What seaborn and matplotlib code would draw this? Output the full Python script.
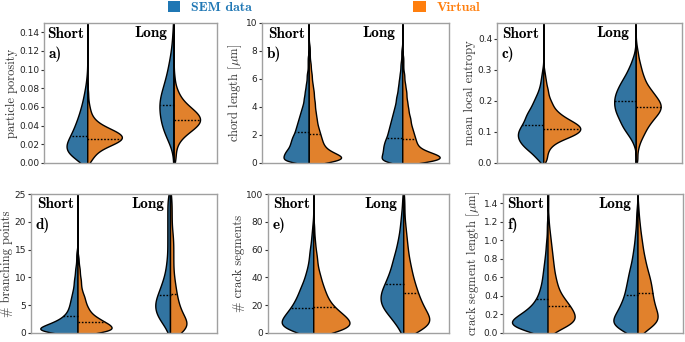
import numpy as np
import pandas as pd
import seaborn as sns
import matplotlib.pyplot as plt
from matplotlib.patches import Patch
from matplotlib.collections import PolyCollection

plt.rcParams["mathtext.fontset"] = "cm"

LENGTHS = ["Short", "Long"]
SOURCES = ["SEM data", "Virtual"]
COLORS = ["#1f77b4", "#ff7f0e"]

# Each distribution is given as counts per value level (histogram)

# a) particle porosity
por_levels = [0.0025, 0.0075, 0.0125, 0.0175, 0.0225, 0.0275, 0.0325, 0.0375, 0.0425, 0.0475,
              0.0525, 0.0575, 0.0625, 0.0675, 0.0725, 0.0775, 0.0825, 0.0875, 0.0925, 0.0975,
              0.1025, 0.1075, 0.1125, 0.1175, 0.1225, 0.1275, 0.1325, 0.1375, 0.1425, 0.1475]
por_short_sem = [10, 20, 25, 26, 23, 20, 17, 15, 13, 11, 9, 8, 6, 5, 4, 3, 2, 1, 1]
por_short_vir = [4, 7, 11, 20, 34, 40, 34, 22, 12, 7, 4, 3, 2, 1, 1, 1]
por_long_sem = [0, 0, 0, 3, 6, 8, 11, 13, 14, 15, 16, 16, 17, 16, 15, 13, 11, 10, 8, 7, 6, 5, 4, 3, 2, 2, 1, 1, 1]
por_long_vir = [2, 2, 2, 3, 5, 9, 15, 22, 28, 29, 26, 20, 14, 9, 6, 4, 2, 1, 1]
por_median_sem = [0.029, 0.062]
por_median_vir = [0.026, 0.046]

# b) chord length
chord_levels = [0.125, 0.375, 0.625, 0.875, 1.125, 1.375, 1.625, 1.875, 2.125, 2.375,
                2.625, 2.875, 3.125, 3.375, 3.625, 3.875, 4.125, 4.375, 4.625, 4.875,
                5.125, 5.375, 5.625, 5.875, 6.125, 6.375, 6.625, 6.875, 7.125, 7.375,
                7.625, 7.875, 8.125, 8.375, 8.625, 8.875, 9.125, 9.375, 9.625, 9.875]
chord_short_sem = [25, 25, 24, 22, 19, 18, 17, 16, 14, 13, 12, 11, 10, 9, 8, 7, 6, 5, 5, 4,
                   4, 3, 3, 2, 2, 2, 1, 1, 1, 1, 1]
chord_short_vir = [30, 37, 28, 20, 16, 14, 13, 12, 11, 10, 9, 8, 8, 7, 7, 6, 6, 6, 5, 5,
                   5, 4, 4, 3, 3, 3, 2, 2, 2, 1, 1, 1, 1, 1]
chord_long_sem = [24, 23, 22, 21, 21, 20, 19, 17, 16, 15, 14, 13, 12, 11, 10, 9, 8, 7, 7, 6,
                  5, 5, 4, 4, 3, 3, 2, 2, 2, 1, 1, 1, 1]
chord_long_vir = [32, 40, 33, 22, 16, 14, 13, 12, 11, 10, 9, 8, 8, 7, 6, 6, 5, 5, 4, 4,
                  4, 3, 3, 2, 2, 2, 1, 1, 1, 1, 1]
chord_median_sem = [2.25, 1.8]
chord_median_vir = [2.1, 1.75]

# c) mean local entropy
ent_levels = [0.005, 0.015, 0.025, 0.035, 0.045, 0.055, 0.065, 0.075, 0.085, 0.095,
              0.105, 0.115, 0.125, 0.135, 0.145, 0.155, 0.165, 0.175, 0.185, 0.195,
              0.205, 0.215, 0.225, 0.235, 0.245, 0.255, 0.265, 0.275, 0.285, 0.295,
              0.305, 0.315, 0.325, 0.335, 0.345, 0.355, 0.365, 0.375, 0.385, 0.395]
ent_short_sem = [4, 7, 10, 13, 18, 21, 24, 26, 27, 27, 26, 24, 22, 20, 19, 18, 16, 14, 12, 11,
                 9, 8, 6, 5, 4, 3, 3, 2, 2, 1, 1]
ent_short_vir = [3, 4, 4, 5, 6, 9, 13, 20, 29, 36, 40, 40, 36, 30, 24, 19, 15, 12, 10, 9,
                 7, 6, 5, 5, 4, 3, 3, 2, 2, 1, 1]
ent_long_sem = [0, 0, 0, 0, 1, 2, 4, 6, 9, 12, 15, 18, 20, 22, 24, 26, 28, 29, 30, 30,
                30, 29, 28, 26, 24, 22, 19, 17, 14, 12, 10, 8, 6, 5, 3, 2, 1, 1]
ent_long_vir = [3, 2, 2, 2, 3, 4, 5, 7, 9, 11, 13, 15, 18, 21, 24, 28, 31, 33, 33, 32,
                29, 26, 23, 20, 17, 14, 12, 11, 9, 8, 7, 6, 5, 4, 3, 3, 2, 1, 1]
ent_median_sem = [0.123, 0.198]
ent_median_vir = [0.108, 0.18]

# d) branching points
br_levels = [0.5, 1.5, 2.5, 3.5, 4.5, 5.5, 6.5, 7.5, 8.5, 9.5, 10.5, 11.5, 12.5,
             13.5, 14.5, 15.5, 16.5, 17.5, 18.5, 19.5, 20.5, 21.5, 22.5, 23.5, 24.5]
br_short_sem = [40, 24, 14, 9, 7, 6, 5, 4, 3, 3, 2, 2, 1, 1, 1]
br_short_vir = [33, 28, 19, 12, 9, 7, 6, 4, 3, 3, 2, 2, 1, 1]
br_long_sem = [2, 5, 9, 11, 12, 12, 10, 8, 7, 5, 4, 3, 3, 2, 2, 2, 2, 2, 2, 2, 2, 2, 2, 2, 2]
br_long_vir = [15, 13, 9, 7, 6, 5, 4, 4, 3, 3, 2, 2, 2, 2, 2, 2, 2, 2, 1, 1, 1, 1, 1, 1, 1]
br_median_sem = [3.0, 6.8]
br_median_vir = [2.0, 7.1]

# e) crack segments
seg_levels = [2, 6, 10, 14, 18, 22, 26, 30, 34, 38, 42, 46, 50,
              54, 58, 62, 66, 70, 74, 78, 82, 86, 90, 94, 98]
seg_short_sem = [28, 35, 31, 27, 22, 19, 16, 14, 12, 9, 8, 6, 5, 4, 4, 3, 2, 2, 1, 1]
seg_short_vir = [35, 40, 36, 29, 22, 17, 14, 12, 10, 8, 7, 5, 4, 4, 3, 2, 2, 1, 1, 1]
seg_long_sem = [3, 7, 10, 15, 19, 21, 21, 20, 17, 15, 13, 11, 10, 9, 7, 6, 5, 4, 3, 3, 2, 2, 1, 1, 1]
seg_long_vir = [20, 26, 25, 21, 18, 16, 14, 12, 11, 9, 8, 7, 6, 5, 4, 4, 3, 3, 2, 2, 1, 1, 1, 1, 1]
seg_median_sem = [18, 35]
seg_median_vir = [19, 29]

# f) crack segment length
sl_levels = [0.025, 0.075, 0.125, 0.175, 0.225, 0.275, 0.325, 0.375, 0.425, 0.475,
             0.525, 0.575, 0.625, 0.675, 0.725, 0.775, 0.825, 0.875, 0.925, 0.975,
             1.025, 1.075, 1.125, 1.175, 1.225, 1.275, 1.325, 1.375, 1.425, 1.475]
sl_short_sem = [20, 38, 36, 28, 21, 16, 12, 10, 8, 7, 6, 5, 5, 4, 4, 3, 3, 2, 2, 2, 1, 1, 1, 1, 1]
sl_short_vir = [6, 24, 28, 27, 25, 22, 19, 15, 12, 10, 9, 8, 7, 6, 6, 5, 5, 4, 4, 3, 3, 2, 2, 1, 1, 1]
sl_long_sem = [14, 22, 20, 17, 15, 13, 12, 10, 9, 9, 8, 7, 7, 6, 5, 4, 4, 3, 3, 2, 2, 2, 1, 1, 1, 1, 1]
sl_long_vir = [8, 18, 24, 22, 20, 18, 17, 16, 15, 15, 14, 13, 12, 10, 9, 8, 7, 6, 5, 5,
               4, 3, 3, 2, 2, 1, 1, 1]
sl_median_sem = [0.37, 0.41]
sl_median_vir = [0.29, 0.43]

panels = [
    dict(tag="a)", ylabel="particle porosity", ylim=(0, 0.15),
         yticks=[0, 0.02, 0.04, 0.06, 0.08, 0.10, 0.12, 0.14], fmt="{:.2f}", bw=1.0,
         levels=por_levels, groups=[por_short_sem, por_short_vir, por_long_sem, por_long_vir],
         med_sem=por_median_sem, med_vir=por_median_vir),
    dict(tag="b)", ylabel=r"chord length [$\mu$m]", ylim=(0, 10),
         yticks=[0, 2, 4, 6, 8, 10], fmt="{:g}", bw=0.35,
         levels=chord_levels, groups=[chord_short_sem, chord_short_vir, chord_long_sem, chord_long_vir],
         med_sem=chord_median_sem, med_vir=chord_median_vir),
    dict(tag="c)", ylabel="mean local entropy", ylim=(0, 0.45),
         yticks=[0, 0.1, 0.2, 0.3, 0.4], fmt="{:.1f}", bw=0.6,
         levels=ent_levels, groups=[ent_short_sem, ent_short_vir, ent_long_sem, ent_long_vir],
         med_sem=ent_median_sem, med_vir=ent_median_vir),
    dict(tag="d)", ylabel="# branching points", ylim=(0, 25),
         yticks=[0, 5, 10, 15, 20, 25], fmt="{:g}", bw=0.55,
         levels=br_levels, groups=[br_short_sem, br_short_vir, br_long_sem, br_long_vir],
         med_sem=br_median_sem, med_vir=br_median_vir),
    dict(tag="e)", ylabel="# crack segments", ylim=(0, 100),
         yticks=[0, 20, 40, 60, 80, 100], fmt="{:g}", bw=0.7,
         levels=seg_levels, groups=[seg_short_sem, seg_short_vir, seg_long_sem, seg_long_vir],
         med_sem=seg_median_sem, med_vir=seg_median_vir),
    dict(tag="f)", ylabel=r"crack segment length [$\mu$m]", ylim=(0, 1.5),
         yticks=[0, 0.2, 0.4, 0.6, 0.8, 1.0, 1.2, 1.4], fmt="{:.1f}", bw=0.7,
         levels=sl_levels, groups=[sl_short_sem, sl_short_vir, sl_long_sem, sl_long_vir],
         med_sem=sl_median_sem, med_vir=sl_median_vir),
]

# axes rectangles in pixels: left, right, top, bottom
rects = [(44, 217, 23, 163), (262, 449, 23, 163), (497, 682, 23, 163),
         (31, 217, 194, 333), (268, 449, 194, 333), (503, 683, 194, 333)]

W, H = 685, 342
fig = plt.figure(figsize=(6.85, 3.42), dpi=100)

serif = ["cmr10", "DejaVu Serif"]
serif_bold = ["cmb10", "DejaVu Serif"]
keys = [("Short", "SEM data"), ("Short", "Virtual"), ("Long", "SEM data"), ("Long", "Virtual")]

for p, (l, r, t, b) in zip(panels, rects):
    ax = fig.add_axes([l / W, (H - b) / H, (r - l) / W, (b - t) / H])
    frames = []
    for (length, src), counts in zip(keys, p["groups"]):
        lev = p["levels"][:len(counts)]
        vals = np.repeat(lev, counts)
        frames.append(pd.DataFrame({"length": length, "source": src, "value": vals}))
    df = pd.concat(frames, ignore_index=True)

    sns.violinplot(data=df, x="length", y="value", hue="source", order=LENGTHS, hue_order=SOURCES,
                   split=True, inner=None, palette=COLORS, linewidth=1, linecolor="black",
                   density_norm="area", common_norm=True,
                   cut=20, gridsize=1500, bw_adjust=p["bw"], legend=False, ax=ax)

    # dotted median line from the centre to the violin edge
    for coll in ax.collections:
        if not isinstance(coll, PolyCollection):
            continue
        v = coll.get_paths()[0].vertices
        pos = int(round(v[:, 0].mean()))
        side = 1 if v[:, 0].mean() > pos else -1
        mask = np.abs(v[:, 0] - pos) > 1e-9
        ys, dx = v[mask, 1], np.abs(v[mask, 0] - pos)
        order = np.argsort(ys)
        med = (p["med_vir"] if side > 0 else p["med_sem"])[pos]
        w = np.interp(med, ys[order], dx[order])
        ax.plot([pos, pos + side * w], [med, med], color="black", lw=1, ls=(0, (1.2, 1.2)), zorder=5)

    ax.set_ylim(*p["ylim"])
    ax.set_xlim(-0.5, 1.5)
    ax.set_yticks(p["yticks"])
    ax.set_yticklabels([p["fmt"].format(v) for v in p["yticks"]], fontsize=6.5, color="#222222")
    ax.set_xticks([])
    ax.set_xlabel("")
    ax.set_ylabel(p["ylabel"], family=serif, fontsize=9, color="#333333", labelpad=1)
    ax.tick_params(axis="y", length=2, width=0.8, color="#333333", pad=1.5)
    for sp in ax.spines.values():
        sp.set_color("#a0a0a0")
        sp.set_linewidth(1)

    ax.text(-0.04, 0.975, "Short", transform=ax.get_xaxis_transform(), ha="right", va="top",
            family=serif_bold, fontsize=11)
    ax.text(0.93, 0.975, "Long", transform=ax.get_xaxis_transform(), ha="right", va="top",
            family=serif_bold, fontsize=11)
    ax.text(0.025, 0.83, p["tag"], transform=ax.transAxes, ha="left", va="top",
            family=serif_bold, fontsize=11)

handles = [Patch(facecolor=c, edgecolor="none") for c in COLORS]
leg = fig.legend(handles, SOURCES, loc="upper center", bbox_to_anchor=(0.473, 1.035), ncol=2,
                 frameon=False, prop={"family": serif_bold, "size": 10},
                 handlelength=0.9, handleheight=0.9, handletextpad=0.8, columnspacing=11.6)
for txt, c in zip(leg.get_texts(), COLORS):
    txt.set_color(c)

fig.savefig("out.png", dpi=100)
